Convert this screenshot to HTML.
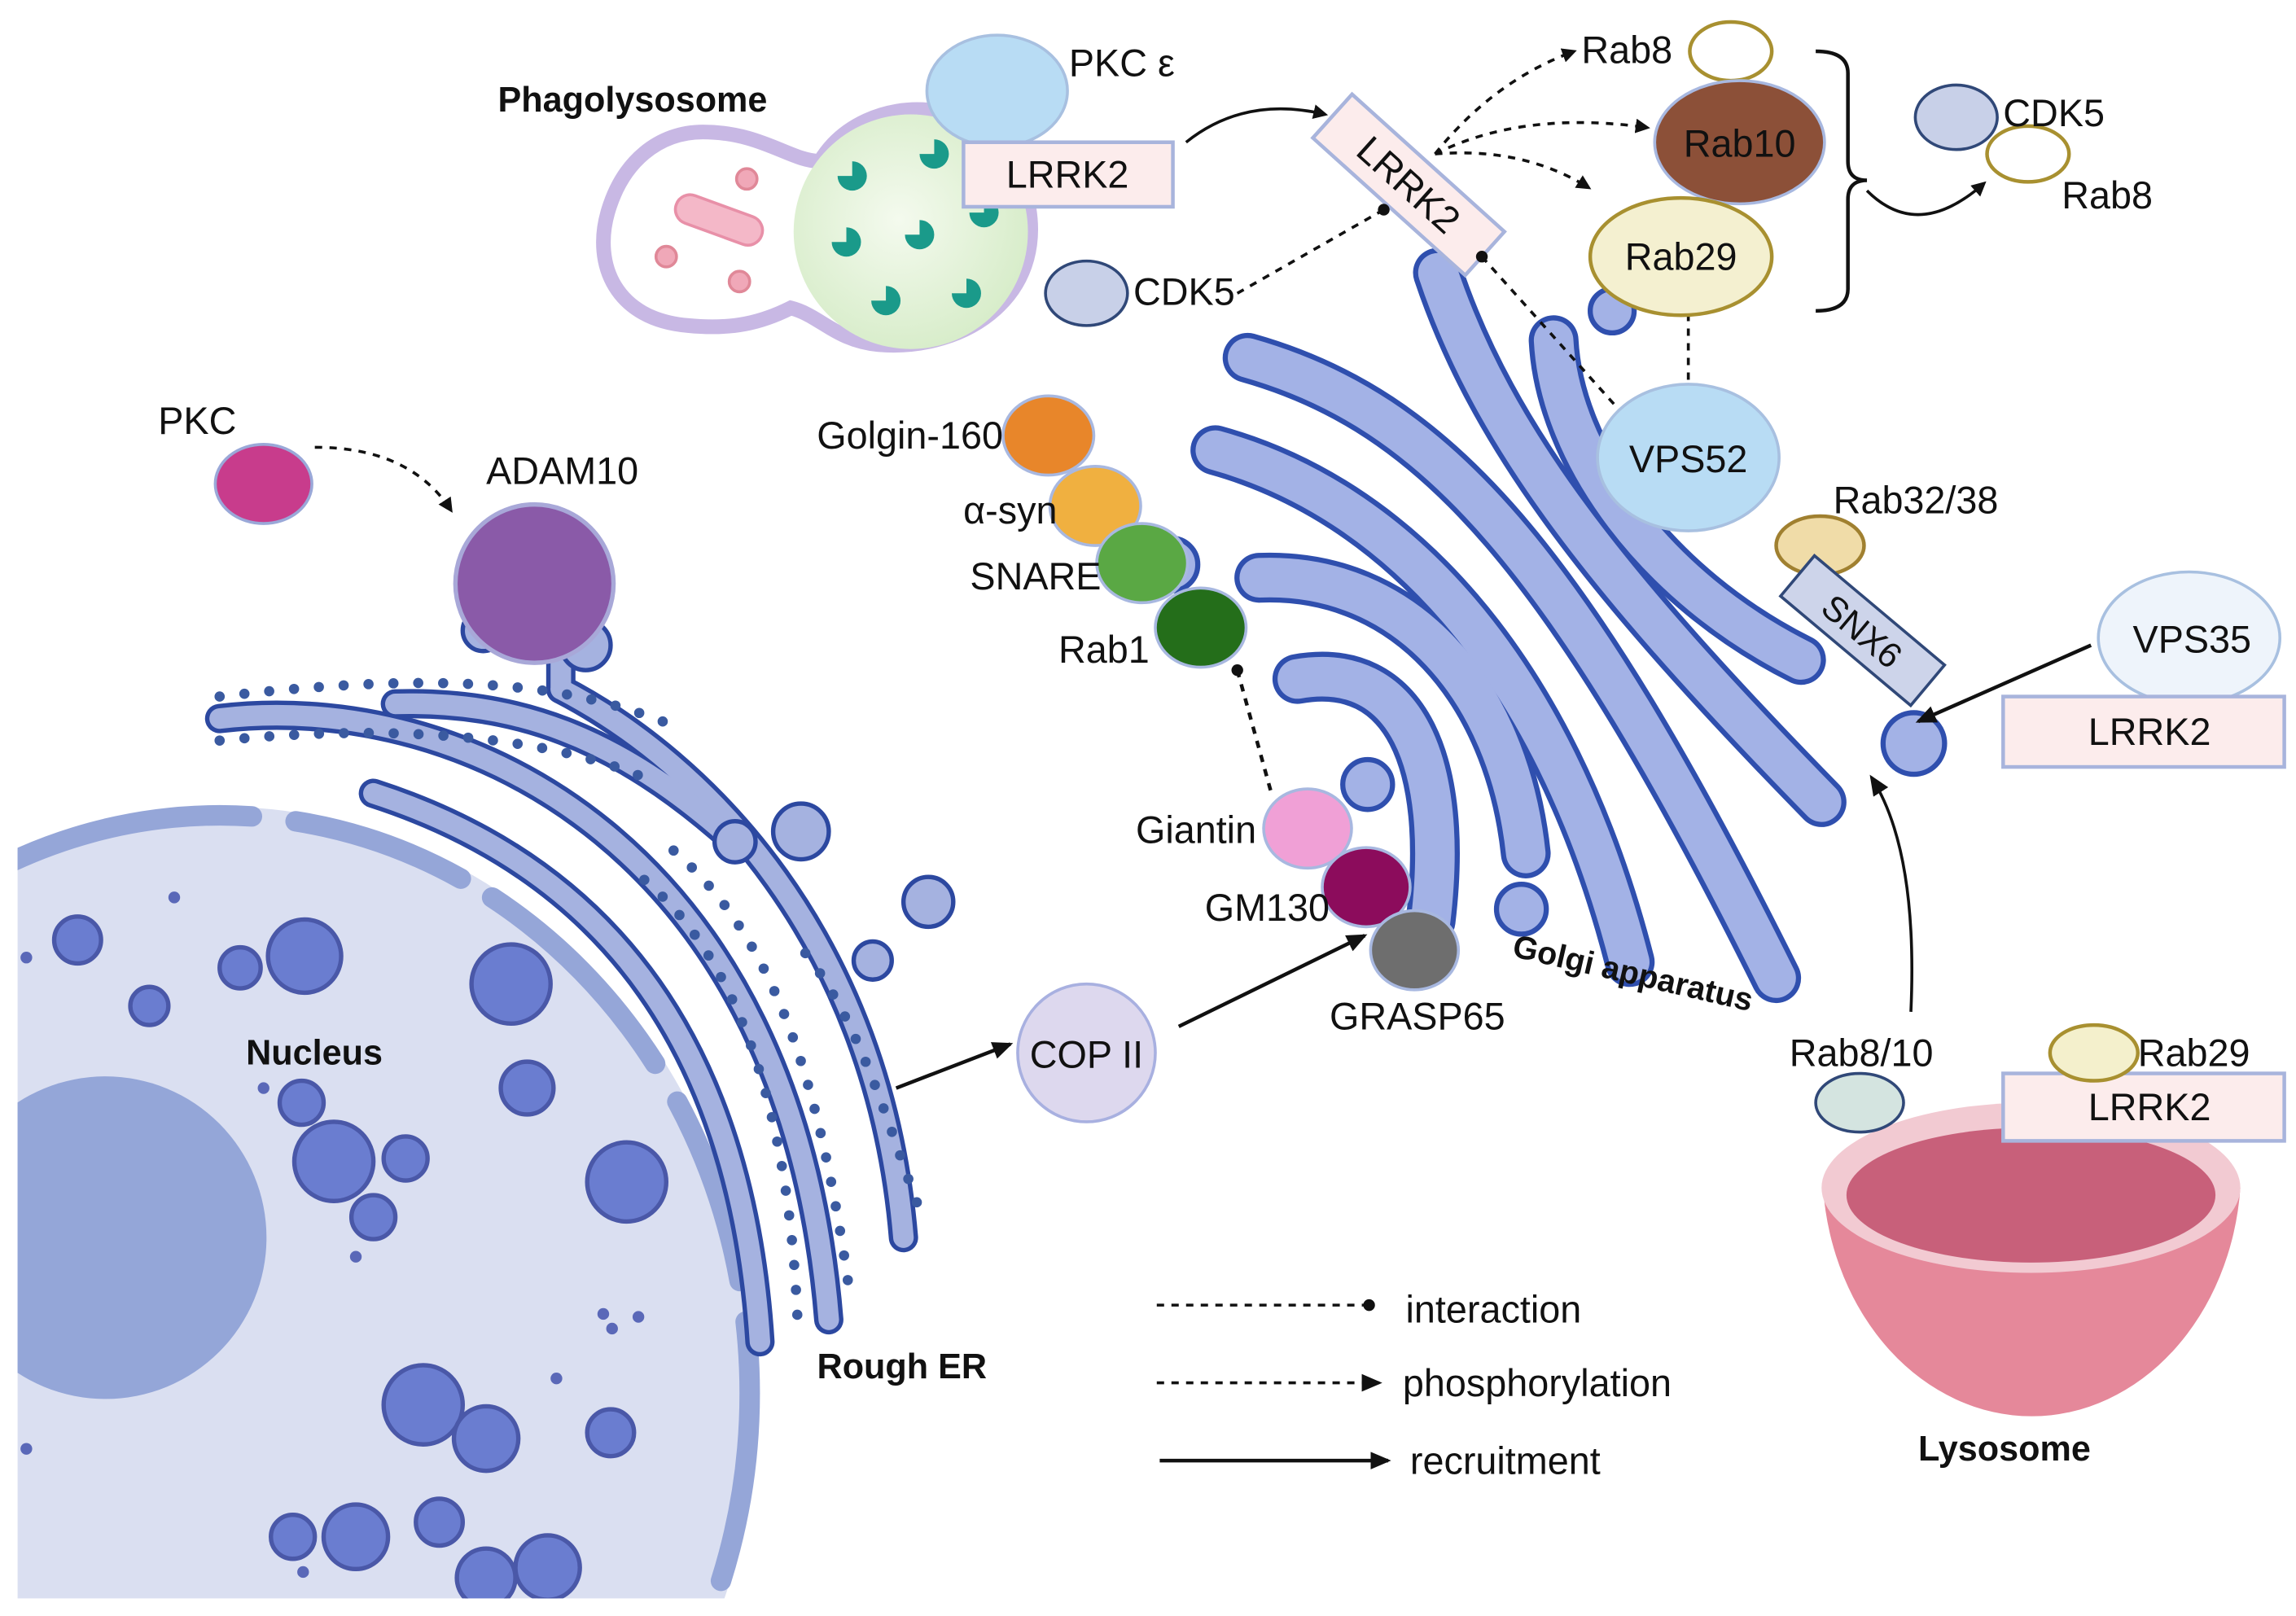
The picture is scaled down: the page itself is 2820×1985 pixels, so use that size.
<!DOCTYPE html>
<html><head><meta charset="utf-8"><style>html,body{margin:0;padding:0;background:#fff;width:2820px;height:1985px;overflow:hidden}svg{display:block}text{font-family:"Liberation Sans",sans-serif;fill:#111}</style></head><body>
<svg width="2820" height="1985" viewBox="0 0 1568 1102" preserveAspectRatio="none" xmlns="http://www.w3.org/2000/svg">
<defs>
<marker id="ah" markerWidth="10" markerHeight="10" refX="8" refY="5" orient="auto" markerUnits="userSpaceOnUse"><path d="M0,0 L10,5 L0,10 z" fill="#111"/></marker>
<marker id="ah2" markerWidth="14" markerHeight="14" refX="12" refY="7" orient="auto" markerUnits="userSpaceOnUse"><path d="M0,1 L14,7 L0,13 z" fill="#111"/></marker>
<marker id="dot" markerWidth="10" markerHeight="10" refX="5" refY="5" markerUnits="userSpaceOnUse"><circle cx="5" cy="5" r="4" fill="#111"/></marker>
<clipPath id="nc"><rect x="12" y="0" width="1600" height="1090"/></clipPath>
<radialGradient id="pg" cx="0.45" cy="0.45" r="0.6"><stop offset="0" stop-color="#f4faee"/><stop offset="1" stop-color="#d6ecc8"/></radialGradient>
</defs>

<!-- Nucleus -->
<g clip-path="url(#nc)">
<ellipse cx="150" cy="950" rx="368" ry="400" fill="#dadff1"/>
<ellipse cx="150" cy="950" rx="362" ry="394" fill="none" stroke="#95a6d8" stroke-width="14" stroke-dasharray="130 28 200 30 120 25 160 30" stroke-linecap="round"/>
<circle cx="72" cy="844" r="110" fill="#94a6d8"/>
<g fill="#6a7dd0" stroke="#4a58a8" stroke-width="3">
<circle cx="53" cy="641" r="16"/><circle cx="102" cy="686" r="13"/><circle cx="164" cy="660" r="14"/><circle cx="208" cy="652" r="25"/><circle cx="349" cy="671" r="27"/><circle cx="360" cy="742" r="18"/><circle cx="206" cy="752" r="15"/><circle cx="228" cy="792" r="27"/><circle cx="277" cy="790" r="15"/><circle cx="255" cy="830" r="15"/><circle cx="428" cy="806" r="27"/><circle cx="289" cy="958" r="27"/><circle cx="332" cy="981" r="22"/><circle cx="417" cy="977" r="16"/><circle cx="200" cy="1048" r="15"/><circle cx="243" cy="1048" r="22"/><circle cx="300" cy="1038" r="16"/><circle cx="332" cy="1076" r="20"/><circle cx="374" cy="1069" r="22"/>
</g>
<g fill="#5a68b8"><circle cx="119" cy="612" r="4"/><circle cx="18" cy="653" r="4"/><circle cx="180" cy="742" r="4"/><circle cx="243" cy="857" r="4"/><circle cx="412" cy="896" r="4"/><circle cx="418" cy="906" r="4"/><circle cx="436" cy="898" r="4"/><circle cx="380" cy="940" r="4"/><circle cx="18" cy="988" r="4"/><circle cx="207" cy="1072" r="4"/></g>
</g>
<text x="168" y="726" font-size="24" font-weight="bold">Nucleus</text>

<!-- Rough ER -->
<g fill="none" stroke-linecap="round">
<g stroke="#2c48a0" stroke-width="20">
<path d="M255,541 Q500,620 519,915"/>
<path d="M150,490 C320,470 540,580 566,900"/>
<path d="M383,470 C480,520 600,640 617,844"/>
<path d="M270,480 C350,478 420,500 502,574"/>
<path d="M383,470 L383,430"/>
</g>
<g stroke="#a5b2e0" stroke-width="14">
<path d="M255,541 Q500,620 519,915"/>
<path d="M150,490 C320,470 540,580 566,900"/>
<path d="M383,470 C480,520 600,640 617,844"/>
<path d="M270,480 C350,478 420,500 502,574"/>
<path d="M383,470 L383,430"/>
</g>
<g stroke="#3a5aa0" stroke-width="7" stroke-dasharray="0 17">
<path d="M150,475 C320,455 400,470 460,495"/>
<path d="M150,505 C300,490 400,510 450,535"/>
<path d="M440,600 C500,650 540,750 545,910"/>
<path d="M460,580 C530,640 560,740 580,880"/>
<path d="M550,650 C590,700 610,780 630,830"/>
</g>
</g>
<g fill="#a5b2e0" stroke="#2c48a0" stroke-width="3">
<circle cx="330" cy="430" r="14"/><circle cx="400" cy="440" r="17"/><circle cx="502" cy="574" r="14"/><circle cx="596" cy="655" r="13"/>
<circle cx="547" cy="567" r="19"/><circle cx="634" cy="615" r="17"/>
</g>
<circle cx="365" cy="398" r="54" fill="#8a5aa8" stroke="#a8a8d8" stroke-width="3"/>
<text x="558" y="940" font-size="24" font-weight="bold">Rough ER</text>

<!-- PKC -->
<ellipse cx="180" cy="330" rx="33" ry="27" fill="#c83c8c" stroke="#9aa8d8" stroke-width="2"/>
<text x="108" y="296" font-size="26">PKC</text>
<path d="M215,305 Q280,305 308,348" fill="none" stroke="#111" stroke-width="2" stroke-dasharray="5 5" marker-end="url(#ah)"/>
<text x="332" y="330" font-size="26">ADAM10</text>

<!-- COP II -->
<line x1="612" y1="742" x2="690" y2="712" stroke="#111" stroke-width="2.5" marker-end="url(#ah2)"/>
<circle cx="742" cy="718" r="47" fill="#ddd8ee" stroke="#a8b0e0" stroke-width="2"/>
<text x="742" y="728" font-size="26" text-anchor="middle">COP II</text>
<line x1="805" y1="700" x2="932" y2="638" stroke="#111" stroke-width="2.5" marker-end="url(#ah2)"/>

<!-- Golgi -->
<g fill="none" stroke-linecap="round">
<g stroke="#2f4fae" stroke-width="34">
<path d="M1061,232 C1065,310 1130,400 1230,450"/>
<path d="M982,186 C1020,300 1100,400 1244,547"/>
<path d="M852,244 C980,280 1070,380 1213,667"/>
<path d="M830,307 C950,340 1060,450 1113,656"/>
<path d="M860,394 C960,390 1030,470 1042,582"/>
<path d="M886,463 C960,450 990,520 977,628"/>
</g>
<g stroke="#a3b2e6" stroke-width="27">
<path d="M1061,232 C1065,310 1130,400 1230,450"/>
<path d="M982,186 C1020,300 1100,400 1244,547"/>
<path d="M852,244 C980,280 1070,380 1213,667"/>
<path d="M830,307 C950,340 1060,450 1113,656"/>
<path d="M860,394 C960,390 1030,470 1042,582"/>
<path d="M886,463 C960,450 990,520 977,628"/>
</g>
</g>
<g fill="#a3b2e6" stroke="#2f4fae" stroke-width="3.5">
<circle cx="934" cy="535" r="17"/><circle cx="1039" cy="620" r="17"/><circle cx="1101" cy="212" r="15"/><circle cx="1307" cy="507" r="21"/><circle cx="800" cy="385" r="18"/>
</g>
<text x="1032" y="652" font-size="22" font-weight="bold" transform="rotate(13 1032 652)">Golgi apparatus</text>

<!-- left chain -->
<ellipse cx="716" cy="297" rx="31" ry="27" fill="#e8862a" stroke="#a8b8e0" stroke-width="2"/>
<ellipse cx="748" cy="345" rx="31" ry="27" fill="#f0b040" stroke="#a8b8e0" stroke-width="2"/>
<ellipse cx="780" cy="384" rx="31" ry="27" fill="#5aa844" stroke="#a8b8e0" stroke-width="2"/>
<ellipse cx="820" cy="428" rx="31" ry="27" fill="#246e1a" stroke="#a8b8e0" stroke-width="2"/>
<text x="685" y="306" font-size="26" text-anchor="end">Golgin-160</text>
<text x="722" y="357" font-size="26" text-anchor="end">α-syn</text>
<text x="752" y="402" font-size="26" text-anchor="end">SNARE</text>
<text x="785" y="452" font-size="26" text-anchor="end">Rab1</text>
<line x1="845" y1="457" x2="868" y2="540" stroke="#111" stroke-width="2.5" stroke-dasharray="5 5" marker-start="url(#dot)"/>
<ellipse cx="893" cy="565" rx="30" ry="27" fill="#f0a0d6" stroke="#a8b8e0" stroke-width="2"/>
<ellipse cx="933" cy="605" rx="30" ry="27" fill="#8c0c5c" stroke="#a8b8e0" stroke-width="2"/>
<ellipse cx="966" cy="648" rx="30" ry="27" fill="#6e6e6e" stroke="#a8b8e0" stroke-width="2"/>
<text x="858" y="575" font-size="26" text-anchor="end">Giantin</text>
<text x="908" y="628" font-size="26" text-anchor="end">GM130</text>
<text x="908" y="702" font-size="26">GRASP65</text>

<!-- Phagolysosome -->
<path d="M480,90 C520,90 540,110 560,110 C590,60 680,60 700,130 C720,200 660,240 600,235 C570,232 560,215 540,210 C520,220 500,225 470,222 C420,218 405,180 415,145 C425,110 450,90 480,90 Z" fill="#fff" stroke="#c8b8e4" stroke-width="10"/>
<circle cx="622" cy="158" r="80" fill="url(#pg)"/>
<rect x="460" y="140" width="62" height="20" rx="10" fill="#f4b8c8" stroke="#e890a8" stroke-width="2" transform="rotate(20 491 150)"/>
<g fill="#f0a8b8" stroke="#e08898" stroke-width="2"><circle cx="455" cy="175" r="7"/><circle cx="510" cy="122" r="7"/><circle cx="505" cy="192" r="7"/></g>
<g fill="#1a9a8a">
<path d="M582,120 m-10,0 a10,10 0 1,0 10,-10 l0,10 z"/><path d="M638,105 m-10,0 a10,10 0 1,0 10,-10 l0,10 z"/><path d="M578,165 m-10,0 a10,10 0 1,0 10,-10 l0,10 z"/><path d="M628,160 m-10,0 a10,10 0 1,0 10,-10 l0,10 z"/><path d="M605,205 m-10,0 a10,10 0 1,0 10,-10 l0,10 z"/><path d="M660,200 m-10,0 a10,10 0 1,0 10,-10 l0,10 z"/><path d="M672,145 m-10,0 a10,10 0 1,0 10,-10 l0,10 z"/>
</g>
<text x="340" y="76" font-size="24" font-weight="bold">Phagolysosome</text>
<ellipse cx="681" cy="62" rx="48" ry="38" fill="#b8dcf4" stroke="#a8c0e0" stroke-width="2"/>
<text x="730" y="52" font-size="26">PKC ε</text>
<rect x="658" y="97" width="143" height="44" fill="#fcecec" stroke="#a8b4dc" stroke-width="2.5"/>
<text x="729" y="128" font-size="26" text-anchor="middle">LRRK2</text>
<path d="M810,97 Q850,65 905,78" fill="none" stroke="#111" stroke-width="2" marker-end="url(#ah)"/>

<!-- rotated LRRK2 -->
<g transform="rotate(42 962 126)">
<rect x="892" y="106" width="140" height="40" fill="#fcecec" stroke="#a8b4dc" stroke-width="2.5"/>
<text x="962" y="135" font-size="26" text-anchor="middle">LRRK2</text>
</g>
<g fill="none" stroke="#111" stroke-width="2" stroke-dasharray="5 5">
<path d="M980,105 Q1020,55 1075,35" marker-end="url(#ah)"/>
<path d="M980,105 Q1040,75 1125,87" marker-end="url(#ah)"/>
<path d="M980,105 Q1040,100 1085,128" marker-end="url(#ah)"/>
<line x1="845" y1="200" x2="945" y2="143" marker-end="url(#dot)"/>
<line x1="1012" y1="175" x2="1108" y2="282" marker-start="url(#dot)"/>
<line x1="1153" y1="204" x2="1153" y2="262" marker-start="url(#dot)"/>
</g>
<text x="1080" y="43" font-size="26">Rab8</text>
<ellipse cx="1182" cy="35" rx="28" ry="20" fill="#fff" stroke="#a89030" stroke-width="2.5"/>
<ellipse cx="1188" cy="97" rx="58" ry="42" fill="#8c5038" stroke="#a8b8e0" stroke-width="2"/>
<text x="1188" y="107" font-size="26" text-anchor="middle">Rab10</text>
<ellipse cx="1148" cy="175" rx="62" ry="40" fill="#f4f0d0" stroke="#a89030" stroke-width="2.5"/>
<text x="1148" y="184" font-size="26" text-anchor="middle">Rab29</text>
<path d="M1240,35 Q1262,35 1262,50 L1262,110 Q1262,123 1275,123 Q1262,123 1262,136 L1262,197 Q1262,212 1240,212" fill="none" stroke="#111" stroke-width="2.5"/>
<path d="M1275,130 Q1310,165 1355,125" fill="none" stroke="#111" stroke-width="2" marker-end="url(#ah)"/>
<ellipse cx="1336" cy="80" rx="28" ry="22" fill="#c8d0e8" stroke="#304878" stroke-width="2"/>
<ellipse cx="1385" cy="105" rx="28" ry="19" fill="#fff" stroke="#a89030" stroke-width="2.5"/>
<text x="1368" y="86" font-size="26">CDK5</text>
<text x="1408" y="142" font-size="26">Rab8</text>
<ellipse cx="742" cy="200" rx="28" ry="22" fill="#c8d0e8" stroke="#304878" stroke-width="2"/>
<text x="774" y="208" font-size="26">CDK5</text>

<ellipse cx="1153" cy="312" rx="62" ry="50" fill="#b8dcf4" stroke="#a8c0e0" stroke-width="2"/>
<text x="1153" y="322" font-size="26" text-anchor="middle">VPS52</text>

<ellipse cx="1243" cy="372" rx="30" ry="20" fill="#f0dca8" stroke="#a08030" stroke-width="2.5"/>
<text x="1252" y="350" font-size="26">Rab32/38</text>
<g transform="rotate(40 1272 430)">
<rect x="1214" y="412" width="116" height="36" fill="#cdd4ea" stroke="#304878" stroke-width="2"/>
<text x="1272" y="439" font-size="24" text-anchor="middle">SNX6</text>
</g>
<ellipse cx="1495" cy="435" rx="62" ry="45" fill="#eef4fb" stroke="#a8c0e0" stroke-width="2"/>
<text x="1497" y="445" font-size="26" text-anchor="middle">VPS35</text>
<rect x="1368" y="475" width="192" height="48" fill="#fcecec" stroke="#a8b4dc" stroke-width="2.5"/>
<text x="1468" y="508" font-size="26" text-anchor="middle">LRRK2</text>
<line x1="1428" y1="440" x2="1310" y2="492" stroke="#111" stroke-width="2.5" marker-end="url(#ah2)"/>
<path d="M1305,690 Q1310,580 1278,530" fill="none" stroke="#111" stroke-width="2" marker-end="url(#ah2)"/>

<!-- Lysosome -->
<path d="M1245,810 A143,170 0 0 0 1530,810 Z" fill="#e5889a"/>
<ellipse cx="1387" cy="810" rx="143" ry="58" fill="#f2cad2"/>
<ellipse cx="1387" cy="815" rx="126" ry="46" fill="#c8607a"/>
<text x="1310" y="996" font-size="24" font-weight="bold">Lysosome</text>
<ellipse cx="1270" cy="752" rx="30" ry="20" fill="#d4e4e0" stroke="#304878" stroke-width="2"/>
<text x="1222" y="727" font-size="26">Rab8/10</text>
<rect x="1368" y="732" width="192" height="46" fill="#fcecec" stroke="#a8b4dc" stroke-width="2.5"/>
<text x="1468" y="764" font-size="26" text-anchor="middle">LRRK2</text>
<ellipse cx="1430" cy="718" rx="30" ry="19" fill="#f4f0cc" stroke="#a89030" stroke-width="2.5"/>
<text x="1460" y="727" font-size="26">Rab29</text>

<!-- Legend -->
<line x1="790" y1="890" x2="935" y2="890" stroke="#111" stroke-width="2" stroke-dasharray="5 5" marker-end="url(#dot)"/>
<text x="960" y="902" font-size="26">interaction</text>
<line x1="790" y1="943" x2="942" y2="943" stroke="#111" stroke-width="2" stroke-dasharray="5 5" marker-end="url(#ah2)"/>
<text x="958" y="952" font-size="26">phosphorylation</text>
<line x1="792" y1="996" x2="948" y2="996" stroke="#111" stroke-width="2.5" marker-end="url(#ah2)"/>
<text x="963" y="1005" font-size="26">recruitment</text>
</svg>
</body></html>
